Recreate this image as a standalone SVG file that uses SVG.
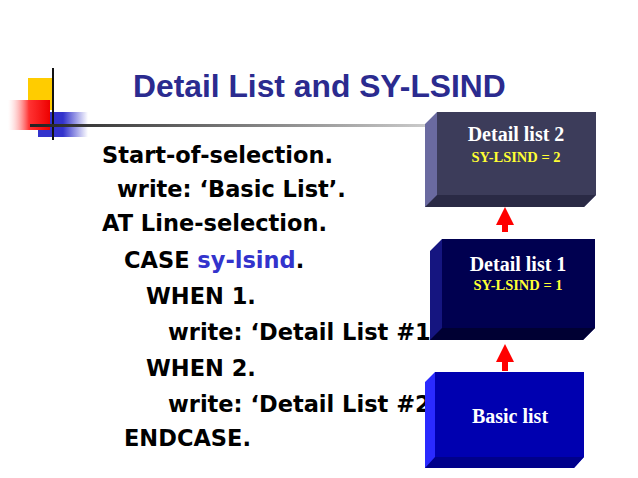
<svg xmlns="http://www.w3.org/2000/svg" width="638" height="478" viewBox="0 0 638 478">
<style>
.code{font-family:"DejaVu Sans",Verdana,sans-serif;font-weight:bold;font-size:22.5px;fill:#000}
.bt{font-family:"Liberation Serif","Times New Roman",serif;font-weight:bold;fill:#fff;text-anchor:middle}
.bs{font-family:"Liberation Serif","Times New Roman",serif;font-weight:bold;font-size:14.5px;fill:#ffff33;text-anchor:middle}
</style>
<defs>
<linearGradient id="ln" x1="0" x2="1"><stop offset="0" stop-color="#222"/><stop offset="1" stop-color="#ccc"/></linearGradient>
<linearGradient id="rd" x1="0" x2="1"><stop offset="0" stop-color="#fff" stop-opacity="0.3"/><stop offset="0.5" stop-color="#f33"/><stop offset="1" stop-color="#e00"/></linearGradient>
<linearGradient id="bl" x1="0" x2="1"><stop offset="0" stop-color="#3333cc"/><stop offset="0.5" stop-color="#3333cc"/><stop offset="1" stop-color="#fff"/></linearGradient>
<marker id="ar" viewBox="0 0 10 10" refX="5" refY="5" markerWidth="3" markerHeight="3" orient="auto"><path d="M0,0L10,5L0,10z" fill="#f00"/></marker>
</defs>
<rect width="638" height="478" fill="#fff"/>
<g id="deco">
<rect x="28" y="78" width="25" height="32" fill="#ffcc00"/>
<rect x="38" y="112" width="50" height="25" fill="url(#bl)"/>
<rect x="8" y="100" width="42" height="30" fill="url(#rd)"/>
<line x1="53" y1="68" x2="53" y2="140" stroke="#111" stroke-width="2"/>
<rect x="30" y="124" width="400" height="3" fill="url(#ln)"/>
</g>
<text x="133" y="97" font-family="Liberation Sans,Arial,sans-serif" font-weight="bold" font-size="31.8" fill="#2b2b8f">Detail List and SY-LSIND</text>
<g id="code" class="code">
<text x="102" y="163">Start-of-selection.</text>
<text x="117" y="197">write: ‘Basic List’.</text>
<text x="102" y="231">AT Line-selection.</text>
<text x="124" y="268">CASE <tspan fill="#3333cc">sy-lsind</tspan>.</text>
<text x="146" y="304">WHEN 1.</text>
<text x="168" y="340">write: ‘Detail List #1’.</text>
<text x="146" y="376">WHEN 2.</text>
<text x="168" y="412">write: ‘Detail List #2’.</text>
<text x="124" y="446">ENDCASE.</text>
</g>
<g id="connectors" stroke="#f00" stroke-width="6" marker-end="url(#ar)">
<line x1="505" y1="232" x2="505" y2="216"/>
<line x1="505" y1="371" x2="505" y2="353"/>
</g>
<g id="detail2">
<polygon points="437,112 425,124 425,207 584,207 596,195 437,195" fill="#6a6aa0"/>
<polygon points="437,195 425,207 584,207 596,195" fill="#2a2a45"/>
<rect x="437" y="112" width="159" height="83" fill="#3c3c5a"/>
<text class="bt" x="516" y="141" font-size="20">Detail list 2</text>
<text class="bs" x="516" y="162">SY-LSIND = 2</text>
</g>
<g id="detail1">
<polygon points="442,239 430,251 430,340 583,340 595,328 442,328" fill="#151580"/>
<polygon points="442,328 430,340 583,340 595,328" fill="#000033"/>
<rect x="442" y="239" width="153" height="89" fill="#000050"/>
<text class="bt" x="518" y="271" font-size="20">Detail list 1</text>
<text class="bs" x="518" y="290">SY-LSIND = 1</text>
</g>
<g id="basic">
<polygon points="435,372 425,382 425,468 574,468 584,457 435,457" fill="#2a2aff"/>
<polygon points="435,457 425,468 574,468 584,457" fill="#00008a"/>
<rect x="435" y="372" width="149" height="85" fill="#0000b0"/>
<text class="bt" x="510" y="423" font-size="20">Basic list</text>
</g>
</svg>
